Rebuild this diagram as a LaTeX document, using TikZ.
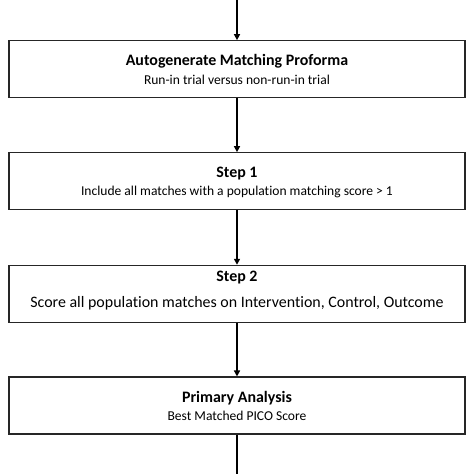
\documentclass[tikz,border=0pt]{standalone}
\usepackage{fontspec}
\setmainfont{Carlito}[Ligatures=CommonOff]
\usetikzlibrary{arrows.meta}
\begin{document}
\begin{tikzpicture}[x=1bp,y=-1bp,
  box/.style={draw=black!85, line width=1.1bp, rectangle, minimum width=456bp, inner sep=0pt, align=center},
  conn/.style={line width=1.6bp, -{Triangle[length=6bp,width=6bp]}},
  ttl/.style={font=\fontsize{16}{19}\bfseries\selectfont},
  sub/.style={font=\fontsize{13.6}{16}\selectfont},
]
\useasboundingbox (0,0) rectangle (474,474);
\node[box, minimum height=57bp] (b1) at (237,69.2) {};
\node[box, minimum height=56.6bp] (b2) at (237,181) {};
\node[box, minimum height=57bp] (b3) at (237,293.8) {};
\node[box, minimum height=57bp] (b4) at (237,405.5) {};
\node[ttl] (t1) at (237,61.7) {Autogenerate Matching Proforma};
\node[sub] (s1) at (237,80) {Run-in trial versus non-run-in trial};
\node[ttl] (t2) at (237,173.3) {Step 1};
\node[sub] (s2) at (237,192.3) {Include all matches with a population matching score > 1};
\node[ttl] (t3) at (237,277.3) {Step 2};
\node[font=\fontsize{16}{19}\selectfont] (s3) at (237,303.3) {Score all population matches on Intervention, Control, Outcome};
\node[ttl] (t4) at (237,398.3) {Primary Analysis};
\node[sub] (s4) at (237,416) {Best Matched PICO Score};
\coordinate (top) at (237,0);
\coordinate (bot) at (237,474);
\draw[conn] (top) -- (b1.north);
\draw[conn] (b1.south) -- (b2.north);
\draw[conn] (b2.south) -- (b3.north);
\draw[conn] (b3.south) -- (b4.north);
\draw[line width=1.6bp] (b4.south) -- (bot);
\end{tikzpicture}
\end{document}
